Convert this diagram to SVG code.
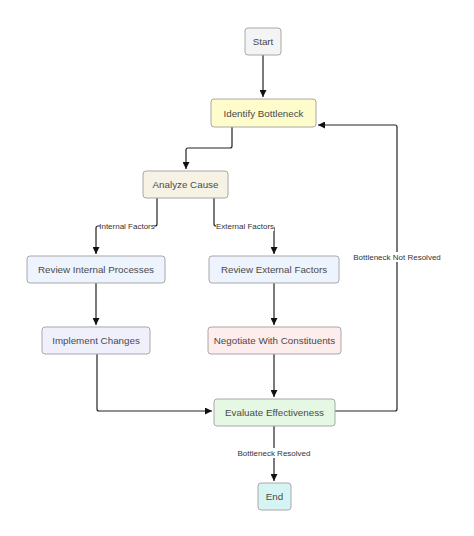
<svg xmlns="http://www.w3.org/2000/svg" width="474" height="536" viewBox="0 0 474 536">
<style>
.n{stroke:#a8a8a8;stroke-width:1}
.t{font-family:"Liberation Sans",Arial,sans-serif;font-size:9.8px;fill:#4a4a4a;text-anchor:middle;dominant-baseline:central}
.l{font-family:"Liberation Sans",Arial,sans-serif;font-size:8px;fill:#333;text-anchor:middle;dominant-baseline:central}
.c{fill:none;stroke:#222;stroke-width:1.2}
.lb{fill:#fff}
</style>
<defs>
<marker id="a" viewBox="0 0 10 10" refX="10" refY="5" markerWidth="7" markerHeight="7" markerUnits="userSpaceOnUse" orient="auto">
<path d="M0,0L10,5L0,10z" fill="#111"/>
</marker>
</defs>
<rect width="474" height="536" fill="#fff"/>
<g id="connectors">
<path class="c" d="M263,55V97" marker-end="url(#a)"/>
<path class="c" d="M232,127V146Q232,148 230,148H188Q186,148 186,150V169" marker-end="url(#a)"/>
<path class="c" d="M157,198V224Q157,226 155,226H98Q96,226 96,228V254" marker-end="url(#a)"/>
<path class="c" d="M214,198V224Q214,226 216,226H272Q274,226 274,228V254" marker-end="url(#a)"/>
<path class="c" d="M96,283V325" marker-end="url(#a)"/>
<path class="c" d="M274,283V325" marker-end="url(#a)"/>
<path class="c" d="M97,354V409Q97,411 99,411H212" marker-end="url(#a)"/>
<path class="c" d="M274,354V397" marker-end="url(#a)"/>
<path class="c" d="M335,411H395Q397,411 397,409V127Q397,125 395,125H318" marker-end="url(#a)"/>
<path class="c" d="M274,426V481" marker-end="url(#a)"/>
<rect class="lb" x="100" y="221" width="54" height="10"/>
<text class="l" x="127" y="226">Internal Factors</text>
<rect class="lb" x="216" y="221" width="58" height="10"/>
<text class="l" x="245" y="226">External Factors</text>
<rect class="lb" x="352" y="252" width="90" height="10"/>
<text class="l" x="397" y="257">Bottleneck Not Resolved</text>
<rect class="lb" x="238" y="448" width="72" height="10"/>
<text class="l" x="274" y="453">Bottleneck Resolved</text>
</g>
<g id="start"><rect class="n" x="245" y="28" width="36" height="27" rx="3" fill="#f3f4f6"/><text class="t" x="263" y="41.5">Start</text></g>
<g id="identify"><rect class="n" x="211" y="99" width="105" height="28" rx="3" fill="#fefccb"/><text class="t" x="263.5" y="113">Identify Bottleneck</text></g>
<g id="analyze"><rect class="n" x="143" y="171" width="85" height="27" rx="3" fill="#f6f3e4"/><text class="t" x="185.5" y="184.5">Analyze Cause</text></g>
<g id="reviewInternal"><rect class="n" x="27" y="256" width="138" height="27" rx="3" fill="#edf4fd"/><text class="t" x="96" y="269.5">Review Internal Processes</text></g>
<g id="reviewExternal"><rect class="n" x="209" y="256" width="130" height="27" rx="3" fill="#edf4fd"/><text class="t" x="274" y="269.5">Review External Factors</text></g>
<g id="implement"><rect class="n" x="42" y="327" width="108" height="27" rx="3" fill="#f0f0fc"/><text class="t" x="96" y="340.5">Implement Changes</text></g>
<g id="negotiate"><rect class="n" x="208" y="327" width="133" height="27" rx="3" fill="#fdeded"/><text class="t" x="274.5" y="340.5">Negotiate With Constituents</text></g>
<g id="evaluate"><rect class="n" x="214" y="399" width="121" height="27" rx="3" fill="#e5f8e3"/><text class="t" x="274.5" y="412.5">Evaluate Effectiveness</text></g>
<g id="end"><rect class="n" x="258" y="483" width="33" height="27" rx="3" fill="#d6f4f3"/><text class="t" x="274.5" y="496.5">End</text></g>
</svg>
